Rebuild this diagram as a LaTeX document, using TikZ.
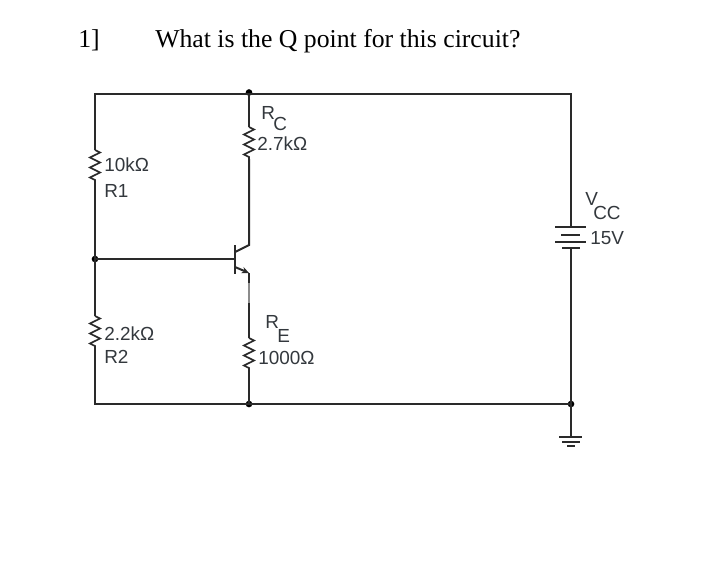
\documentclass[tikz,border=0pt]{standalone}
\usepackage{fontspec}
\setmainfont{Liberation Serif}
\newfontfamily\labelfont{Liberation Sans}
\usetikzlibrary{arrows.meta,decorations.pathmorphing}
\definecolor{wirecol}{HTML}{2A2A2A}
\definecolor{textcol}{HTML}{33383D}
\tikzset{
  wire/.style = {draw=wirecol, line width=1.5pt},
  res/.style = {wire, line width=1.2pt, decorate, decoration={zigzag, amplitude=3.8pt, segment length=7.5pt}},
  dot/.style = {circle, fill=black, inner sep=0pt, minimum size=5pt},
  lbl/.style = {inner sep=0pt, anchor=west, text=textcol, font=\labelfont\fontsize{14.2}{16}\selectfont},
  ttl/.style = {inner sep=0pt, anchor=base west, text=black, font=\fontsize{19.3}{21}\selectfont}
}
\begin{document}
\begin{tikzpicture}[x=0.75pt, y=-0.75pt]
  \useasboundingbox (0,0) rectangle (720,576);
  % heading
  \node[ttl] (num) at (78,47) {1]};
  \node[ttl] (title) at (155,47) {What is the Q point for this circuit?};
  % junctions
  \node[dot] (top) at (249,92.5) {};
  \node[dot] (base) at (95,259) {};
  \node[dot] (botm) at (249,404) {};
  \node[dot] (botr) at (571,404) {};
  \coordinate (tl) at (95,94);
  \coordinate (tr) at (571,94);
  \coordinate (bl) at (95,404);
  % resistor ends
  \coordinate (r1a) at (95,150);
  \coordinate (r1b) at (95,182);
  \coordinate (r2a) at (95,316);
  \coordinate (r2b) at (95,348);
  \coordinate (rca) at (249,127);
  \coordinate (rcb) at (249,159);
  \coordinate (rea) at (249,338);
  \coordinate (reb) at (249,370);
  % transistor
  \coordinate (bar) at (235,259);
  \coordinate (bartop) at (235,245);
  \coordinate (barbot) at (235,274);
  \coordinate (cin) at (235,252);
  \coordinate (cout) at (249,245);
  \coordinate (ein) at (235,267);
  \coordinate (eout) at (249,273);
  \coordinate (ga) at (249,283);
  \coordinate (gb) at (249,303);
  % battery
  \coordinate (p1) at (571,227);
  \coordinate (p4) at (571,248);
  \coordinate (g0) at (571,437);
  % outer loop
  \draw[wire] (r1a) -- (tl) -- (tr) -- (p1);
  \draw[wire] (p4) -- (botr.center) -- (g0);
  \draw[wire] (r2b) -- (bl) -- (botr.center);
  \draw[wire] (r1b) -- (base.center) -- (r2a);
  \draw[wire] (base.center) -- (bar);
  \draw[wire] (top.center) -- (rca);
  \draw[wire] (rcb) -- (cout) -- (cin);
  \draw[wire] (bartop) -- (barbot);
  \draw[wire, -{Stealth[length=5.5pt,width=5pt]}] (ein) -- (eout);
  \draw[wire] (eout) -- (ga);
  \draw[draw=black!45, line width=1.5pt] (ga) -- (gb);
  \draw[wire] (gb) -- (rea);
  \draw[wire] (reb) -- (botm.center);
  % resistors
  \draw[res] (r1a) -- (r1b);
  \draw[res] (r2a) -- (r2b);
  \draw[res] (rca) -- (rcb);
  \draw[res] (rea) -- (reb);
  % battery plates
  \draw[wire] (555,227) -- (586,227);
  \draw[wire] (561,234.5) -- (580,234.5);
  \draw[wire] (555,241.5) -- (586,241.5);
  \draw[wire] (562,248) -- (580,248);
  % ground plates
  \draw[wire] (559,437) -- (582,437);
  \draw[wire] (562,441.5) -- (580,441.5);
  \draw[wire] (567,446) -- (575,446);
  % labels
  \node[lbl] (r1val) at (104,165) {10kΩ};
  \node[lbl] (r1name) at (104,191) {R1};
  \node[lbl] (r2val) at (104,334) {2.2kΩ};
  \node[lbl] (r2name) at (104,357) {R2};
  \node[lbl] (rcr) at (261,113) {R};
  \node[lbl] (rcc) at (273,124) {C};
  \node[lbl] (rcval) at (257,144) {2.7kΩ};
  \node[lbl] (rer) at (265,322) {R};
  \node[lbl] (ree) at (277,336) {E};
  \node[lbl] (reval) at (258,358) {1000Ω};
  \node[lbl] (vccv) at (585,199) {V};
  \node[lbl] (vccc) at (593,213) {CC};
  \node[lbl] (vccval) at (590,238) {15V};
\end{tikzpicture}
\end{document}
